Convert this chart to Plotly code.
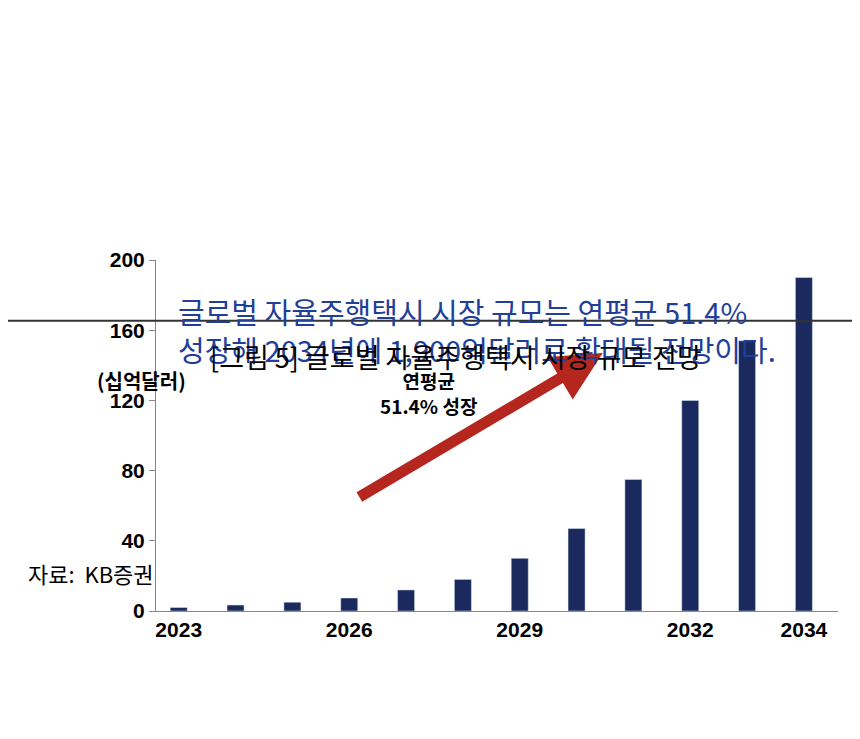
import plotly.graph_objs as go

years = [2023, 2024, 2025, 2026, 2027, 2028, 2029, 2030, 2031, 2032, 2033, 2034]
market_size = [2, 3.4, 5, 7.4, 12, 18, 30, 47, 75, 120, 154, 190]
tick_years = [2023, 2026, 2029, 2032, 2034]
y_ticks = [0, 40, 80, 120, 160, 200]

fig = go.Figure()
fig.add_trace(
    go.Bar(x=years, y=market_size, marker=dict(color="#1a2a5e"), width=0.3)
)

fig.update_layout(
    width=860,
    height=739,
    paper_bgcolor="white",
    plot_bgcolor="white",
    showlegend=False,
    margin=dict(l=148, r=30, t=252, b=136),
    font=dict(family="Noto Sans CJK KR", color="black"),
    xaxis=dict(
        range=[2022.6, 2034.6],
        tickvals=tick_years,
        ticktext=[str(y) for y in tick_years],
        tickfont=dict(size=21, family="Liberation Sans", weight="bold"),
        showline=True,
        linecolor="#888",
        ticks="",
    ),
    yaxis=dict(
        range=[0, 200],
        tickvals=y_ticks,
        tickfont=dict(size=21, family="Liberation Sans", weight="bold"),
        showline=True,
        linecolor="#888",
        ticks="outside",
        ticklen=6,
        tickcolor="#888",
        showgrid=False,
        zeroline=False,
    ),
)

# growth arrow
fig.add_annotation(
    x=0.655, y=0.735, ax=0.296, ay=0.322,
    xref="x domain", yref="y domain", axref="x domain", ayref="y domain",
    showarrow=True, arrowhead=2, arrowsize=0.9, arrowwidth=11,
    arrowcolor="#b5261e", text="",
)
fig.add_annotation(
    x=0.40, y=0.70, xref="paper", yref="paper", showarrow=False,
    text="<b>연평균<br>51.4% 성장</b>", font=dict(size=19),
)

fig.add_annotation(
    x=0.03, y=1 - 58 / 739, xref="paper", yref="paper", xanchor="left",
    showarrow=False, align="left",
    text="글로벌 자율주행택시 시장 규모는 연평균 51.4%<br>성장해 2034년에 1,900억달러로 확대될 전망이다.",
    font=dict(size=29, color="#1f3f99"),
)
fig.add_shape(
    type="line", xref="paper", yref="paper",
    x0=-0.22, x1=1.05, y0=1 - 128 / 739, y1=1 - 128 / 739,
    line=dict(color="#333", width=2),
)
fig.add_annotation(
    x=0.44, y=1 - 158 / 739, xref="paper", yref="paper",
    showarrow=False, text="[그림 5] 글로벌 자율주행택시 시장 규모 전망",
    font=dict(size=27),
)
fig.add_annotation(
    x=-0.09, y=1 - 218 / 739, xref="paper", yref="paper", xanchor="left",
    showarrow=False, text="<b>(십억달러)</b>", font=dict(size=20),
)
fig.add_annotation(
    x=-0.19, y=1 - 697 / 739, xref="paper", yref="paper", xanchor="left",
    showarrow=False, text="자료:  KB증권", font=dict(size=22),
)

fig.write_html("out.html")
